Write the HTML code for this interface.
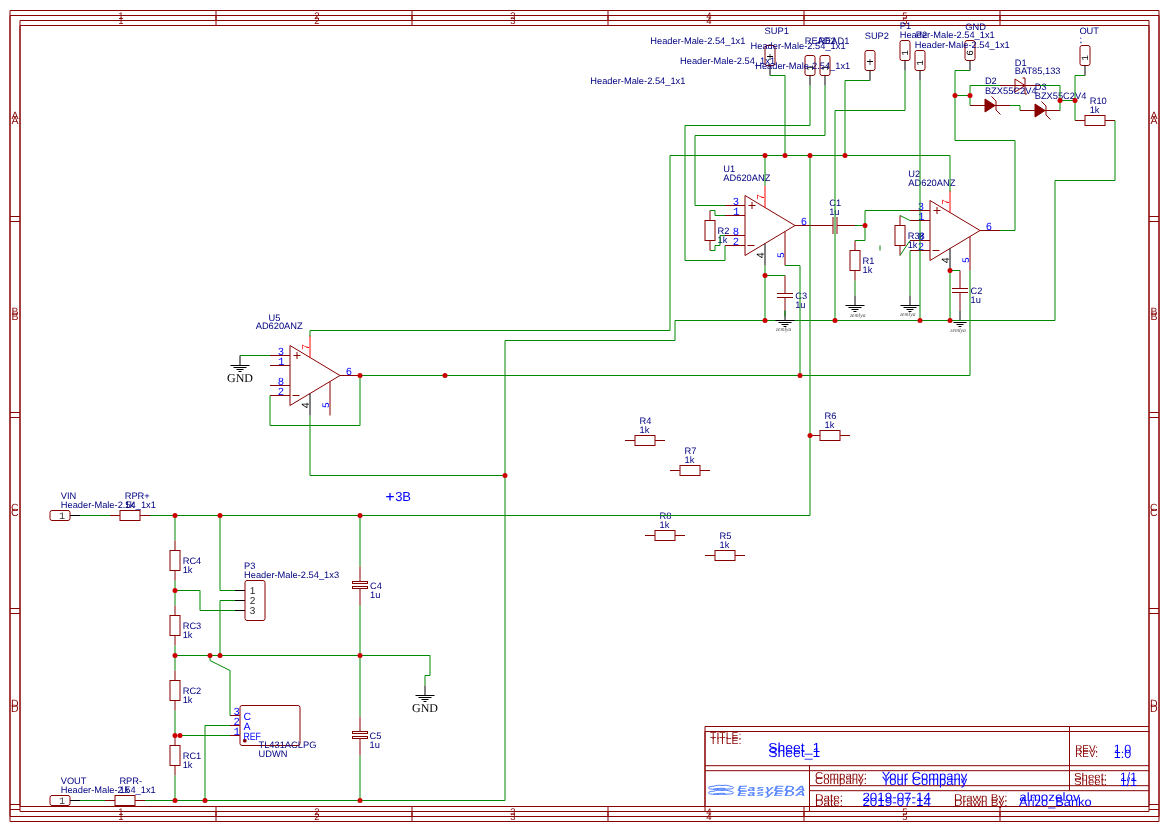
<!DOCTYPE html>
<html><head><meta charset="utf-8"><style>
html,body{margin:0;padding:0;background:#fff;}
svg{display:block;}
</style></head><body>
<div style="will-change:transform;width:1169px;height:832px;background:#fff">
<svg width="1169" height="832" viewBox="0 0 1169 832" font-family="Liberation Sans, sans-serif" text-rendering="geometricPrecision">
<rect width="1169" height="832" fill="#fff"/>
<g transform="translate(0,0.5)"><g id="frA" stroke="#880000" stroke-width="1"><line x1="10" y1="10" x2="1159" y2="10"/><line x1="10" y1="816" x2="1159" y2="816"/><line x1="10" y1="10" x2="10" y2="816"/><line x1="1159" y1="10" x2="1159" y2="816"/><line x1="20" y1="20" x2="1149" y2="20"/><line x1="20" y1="806" x2="1149" y2="806"/><line x1="20" y1="20" x2="20" y2="806"/><line x1="1149" y1="20" x2="1149" y2="806"/><line x1="216" y1="10" x2="216" y2="20"/><line x1="216" y1="806" x2="216" y2="816"/><line x1="412" y1="10" x2="412" y2="20"/><line x1="412" y1="806" x2="412" y2="816"/><line x1="608" y1="10" x2="608" y2="20"/><line x1="608" y1="806" x2="608" y2="816"/><line x1="804" y1="10" x2="804" y2="20"/><line x1="804" y1="806" x2="804" y2="816"/><line x1="1000" y1="10" x2="1000" y2="20"/><line x1="1000" y1="806" x2="1000" y2="816"/><line x1="10" y1="216" x2="20" y2="216"/><line x1="1149" y1="216" x2="1159" y2="216"/><line x1="10" y1="412" x2="20" y2="412"/><line x1="1149" y1="412" x2="1159" y2="412"/><line x1="10" y1="608" x2="20" y2="608"/><line x1="1149" y1="608" x2="1159" y2="608"/><line x1="10" y1="804" x2="20" y2="804"/><line x1="1149" y1="804" x2="1159" y2="804"/><line x1="705" y1="726" x2="1149" y2="726"/><line x1="705" y1="726" x2="705" y2="806"/><line x1="705" y1="765.2" x2="1149" y2="765.2"/><line x1="809.5" y1="765" x2="809.5" y2="806"/><line x1="809.5" y1="785.2" x2="1149" y2="785.2"/><line x1="1069.5" y1="726" x2="1069.5" y2="785"/></g>
<use href="#frA" transform="translate(0,5)"/>
<rect x="765" y="45" width="10" height="20" rx="2" fill="none" stroke="#880000"/>
<line x1="770" y1="65" x2="770" y2="75" stroke="#000000" stroke-width="1"/>
<line x1="767" y1="56" x2="773" y2="56" stroke="#000000" stroke-width="1"/>
<line x1="770" y1="53.5" x2="770" y2="59.5" stroke="#000000" stroke-width="0.7"/>
<rect x="805" y="55" width="10" height="20" rx="2" fill="none" stroke="#880000"/>
<line x1="810" y1="75" x2="810" y2="85" stroke="#000000" stroke-width="1"/>
<rect x="820" y="55" width="10" height="20" rx="2" fill="none" stroke="#880000"/>
<line x1="825" y1="75" x2="825" y2="85" stroke="#000000" stroke-width="1"/>
<rect x="865" y="50" width="10" height="20" rx="2" fill="none" stroke="#880000"/>
<line x1="870" y1="70" x2="870" y2="80" stroke="#000000" stroke-width="1"/>
<line x1="867" y1="61" x2="873" y2="61" stroke="#000000" stroke-width="1"/>
<line x1="870" y1="58.5" x2="870" y2="64.5" stroke="#000000" stroke-width="0.7"/>
<rect x="900" y="40" width="10" height="20" rx="2" fill="none" stroke="#880000"/>
<line x1="905" y1="60" x2="905" y2="70" stroke="#000000" stroke-width="1"/>
<rect x="915" y="50" width="10" height="20" rx="2" fill="none" stroke="#880000"/>
<line x1="920" y1="70" x2="920" y2="80" stroke="#000000" stroke-width="1"/>
<rect x="965" y="40" width="10" height="20" rx="2" fill="none" stroke="#880000"/>
<line x1="970" y1="60" x2="970" y2="70" stroke="#000000" stroke-width="1"/>
<rect x="1080" y="45" width="10" height="20" rx="2" fill="none" stroke="#880000"/>
<line x1="1085" y1="65" x2="1085" y2="75" stroke="#000000" stroke-width="1"/>
<circle cx="1080.8" cy="37.7" r="0.8" fill="#6a6ac0"/><circle cx="1080.9" cy="41.9" r="0.95" fill="#6a6ac0"/>
<line x1="1000" y1="85" x2="1040" y2="85" stroke="#880000" stroke-width="1"/>
<polygon points="1015,78.5 1025,85 1015,91.5" fill="none" stroke="#880000"/>
<polyline points="1022.5,77.5 1025,77.5 1025,93.5 1027,93.5" fill="none" stroke="#880000" stroke-width="1"/>
<line x1="970" y1="105" x2="1010" y2="105" stroke="#880000" stroke-width="1"/>
<line x1="1020" y1="110" x2="1060" y2="110" stroke="#880000" stroke-width="1"/>
<polygon points="985,98.5 995,105 985,111.5" fill="#880000" stroke="#880000"/>
<polyline points="991.5,96 996,100.5 996,109.5 1000.5,114" fill="none" stroke="#880000" stroke-width="1"/>
<polygon points="1035,103.5 1045,110 1035,116.5" fill="#880000" stroke="#880000"/>
<polyline points="1041.5,101 1046,105.5 1046,114.5 1050.5,119" fill="none" stroke="#880000" stroke-width="1"/>
<line x1="1075" y1="120" x2="1085" y2="120" stroke="#880000" stroke-width="1"/>
<rect x="1085" y="115" width="20" height="10" rx="0" fill="none" stroke="#880000"/>
<line x1="1105" y1="120" x2="1115" y2="120" stroke="#880000" stroke-width="1"/>
<polygon points="745,195 795,225 745,255" fill="none" stroke="#880000"/>
<line x1="725" y1="205" x2="745" y2="205" stroke="#880000" stroke-width="1"/>
<line x1="725" y1="215" x2="745" y2="215" stroke="#880000" stroke-width="1"/>
<line x1="725" y1="235" x2="745" y2="235" stroke="#880000" stroke-width="1"/>
<line x1="725" y1="245" x2="745" y2="245" stroke="#880000" stroke-width="1"/>
<line x1="748.5" y1="205" x2="755.5" y2="205" stroke="#880000" stroke-width="1"/>
<line x1="752" y1="201.5" x2="752" y2="208.5" stroke="#880000" stroke-width="1"/>
<line x1="747.5" y1="245" x2="754.5" y2="245" stroke="#880000" stroke-width="1"/>
<line x1="765" y1="185" x2="765" y2="207" stroke="#ff0000" stroke-width="1"/>
<line x1="765" y1="243" x2="765" y2="265" stroke="#000000" stroke-width="1"/>
<line x1="785" y1="231" x2="785" y2="265" stroke="#880000" stroke-width="1"/>
<line x1="795" y1="225" x2="815" y2="225" stroke="#880000" stroke-width="1"/>
<line x1="710" y1="210" x2="710" y2="220" stroke="#880000" stroke-width="1"/>
<rect x="705" y="220" width="10" height="20" rx="0" fill="none" stroke="#880000"/>
<line x1="710" y1="240" x2="710" y2="250" stroke="#880000" stroke-width="1"/>
<line x1="815" y1="225" x2="833" y2="225" stroke="#880000" stroke-width="1"/>
<line x1="833" y1="216.5" x2="833" y2="233.5" stroke="#880000" stroke-width="1"/>
<line x1="837" y1="216.5" x2="837" y2="233.5" stroke="#880000" stroke-width="1"/>
<line x1="837" y1="225" x2="855" y2="225" stroke="#880000" stroke-width="1"/>
<line x1="855" y1="240" x2="855" y2="250" stroke="#880000" stroke-width="1"/>
<rect x="850" y="250" width="10" height="20" rx="0" fill="none" stroke="#880000"/>
<line x1="855" y1="270" x2="855" y2="280" stroke="#880000" stroke-width="1"/>
<line x1="855" y1="295" x2="855" y2="305" stroke="#000000" stroke-width="1"/>
<line x1="845.5" y1="305" x2="864.5" y2="305" stroke="#000000" stroke-width="1"/>
<line x1="848.5" y1="307" x2="861.5" y2="307" stroke="#000000" stroke-width="1"/>
<line x1="851.5" y1="309" x2="858.5" y2="309" stroke="#000000" stroke-width="1"/>
<line x1="853.5" y1="311" x2="856.5" y2="311" stroke="#000000" stroke-width="1"/>
<line x1="785" y1="275" x2="785" y2="293" stroke="#880000" stroke-width="1"/>
<line x1="777" y1="293" x2="793" y2="293" stroke="#880000" stroke-width="1"/>
<line x1="777" y1="297" x2="793" y2="297" stroke="#880000" stroke-width="1"/>
<line x1="785" y1="297" x2="785" y2="310" stroke="#880000" stroke-width="1"/>
<line x1="785" y1="310" x2="785" y2="320" stroke="#000000" stroke-width="1"/>
<line x1="775.5" y1="320" x2="794.5" y2="320" stroke="#000000" stroke-width="1"/>
<line x1="778.5" y1="322" x2="791.5" y2="322" stroke="#000000" stroke-width="1"/>
<line x1="781.5" y1="324" x2="788.5" y2="324" stroke="#000000" stroke-width="1"/>
<line x1="783.5" y1="326" x2="786.5" y2="326" stroke="#000000" stroke-width="1"/>
<polygon points="930,200 980,230 930,260" fill="none" stroke="#880000"/>
<line x1="910" y1="210" x2="930" y2="210" stroke="#880000" stroke-width="1"/>
<line x1="910" y1="220" x2="930" y2="220" stroke="#880000" stroke-width="1"/>
<line x1="910" y1="240" x2="930" y2="240" stroke="#880000" stroke-width="1"/>
<line x1="910" y1="250" x2="930" y2="250" stroke="#880000" stroke-width="1"/>
<line x1="933.5" y1="210" x2="940.5" y2="210" stroke="#880000" stroke-width="1"/>
<line x1="937" y1="206.5" x2="937" y2="213.5" stroke="#880000" stroke-width="1"/>
<line x1="932.5" y1="250" x2="939.5" y2="250" stroke="#880000" stroke-width="1"/>
<line x1="950" y1="190" x2="950" y2="212" stroke="#ff0000" stroke-width="1"/>
<line x1="950" y1="248" x2="950" y2="270" stroke="#000000" stroke-width="1"/>
<line x1="970" y1="236" x2="970" y2="270" stroke="#880000" stroke-width="1"/>
<line x1="980" y1="230" x2="1000" y2="230" stroke="#880000" stroke-width="1"/>
<line x1="900" y1="215" x2="900" y2="225" stroke="#880000" stroke-width="1"/>
<rect x="895" y="225" width="10" height="20" rx="0" fill="none" stroke="#880000"/>
<line x1="900" y1="245" x2="900" y2="255" stroke="#880000" stroke-width="1"/>
<line x1="910" y1="295" x2="910" y2="305" stroke="#000000" stroke-width="1"/>
<line x1="900.5" y1="305" x2="919.5" y2="305" stroke="#000000" stroke-width="1"/>
<line x1="903.5" y1="307" x2="916.5" y2="307" stroke="#000000" stroke-width="1"/>
<line x1="906.5" y1="309" x2="913.5" y2="309" stroke="#000000" stroke-width="1"/>
<line x1="908.5" y1="311" x2="911.5" y2="311" stroke="#000000" stroke-width="1"/>
<line x1="960" y1="270" x2="960" y2="288" stroke="#880000" stroke-width="1"/>
<line x1="952" y1="288" x2="968" y2="288" stroke="#880000" stroke-width="1"/>
<line x1="952" y1="292" x2="968" y2="292" stroke="#880000" stroke-width="1"/>
<line x1="960" y1="292" x2="960" y2="310" stroke="#880000" stroke-width="1"/>
<line x1="960" y1="310" x2="960" y2="320" stroke="#000000" stroke-width="1"/>
<line x1="950.5" y1="320" x2="969.5" y2="320" stroke="#000000" stroke-width="1"/>
<line x1="953.5" y1="322" x2="966.5" y2="322" stroke="#000000" stroke-width="1"/>
<line x1="956.5" y1="324" x2="963.5" y2="324" stroke="#000000" stroke-width="1"/>
<line x1="958.5" y1="326" x2="961.5" y2="326" stroke="#000000" stroke-width="1"/>
<polygon points="290,345 340,375 290,405" fill="none" stroke="#880000"/>
<line x1="270" y1="355" x2="290" y2="355" stroke="#880000" stroke-width="1"/>
<line x1="270" y1="365" x2="290" y2="365" stroke="#880000" stroke-width="1"/>
<line x1="270" y1="385" x2="290" y2="385" stroke="#880000" stroke-width="1"/>
<line x1="270" y1="395" x2="290" y2="395" stroke="#880000" stroke-width="1"/>
<line x1="293.5" y1="355" x2="300.5" y2="355" stroke="#880000" stroke-width="1"/>
<line x1="297" y1="351.5" x2="297" y2="358.5" stroke="#880000" stroke-width="1"/>
<line x1="292.5" y1="395" x2="299.5" y2="395" stroke="#880000" stroke-width="1"/>
<line x1="310" y1="335" x2="310" y2="357" stroke="#ff0000" stroke-width="1"/>
<line x1="310" y1="393" x2="310" y2="415" stroke="#000000" stroke-width="1"/>
<line x1="330" y1="381" x2="330" y2="415" stroke="#880000" stroke-width="1"/>
<line x1="340" y1="375" x2="360" y2="375" stroke="#880000" stroke-width="1"/>
<line x1="240" y1="355" x2="240" y2="365" stroke="#000000" stroke-width="1"/>
<line x1="230.5" y1="365" x2="249.5" y2="365" stroke="#000000" stroke-width="1"/>
<line x1="233.5" y1="367" x2="246.5" y2="367" stroke="#000000" stroke-width="1"/>
<line x1="236.5" y1="369" x2="243.5" y2="369" stroke="#000000" stroke-width="1"/>
<line x1="238.5" y1="371" x2="241.5" y2="371" stroke="#000000" stroke-width="1"/>
<line x1="625" y1="440" x2="635" y2="440" stroke="#880000" stroke-width="1"/>
<rect x="635" y="435" width="20" height="10" rx="0" fill="none" stroke="#880000"/>
<line x1="655" y1="440" x2="665" y2="440" stroke="#880000" stroke-width="1"/>
<line x1="670" y1="470" x2="680" y2="470" stroke="#880000" stroke-width="1"/>
<rect x="680" y="465" width="20" height="10" rx="0" fill="none" stroke="#880000"/>
<line x1="700" y1="470" x2="710" y2="470" stroke="#880000" stroke-width="1"/>
<line x1="810" y1="435" x2="820" y2="435" stroke="#880000" stroke-width="1"/>
<rect x="820" y="430" width="20" height="10" rx="0" fill="none" stroke="#880000"/>
<line x1="840" y1="435" x2="850" y2="435" stroke="#880000" stroke-width="1"/>
<line x1="645" y1="535" x2="655" y2="535" stroke="#880000" stroke-width="1"/>
<rect x="655" y="530" width="20" height="10" rx="0" fill="none" stroke="#880000"/>
<line x1="675" y1="535" x2="685" y2="535" stroke="#880000" stroke-width="1"/>
<line x1="705" y1="555" x2="715" y2="555" stroke="#880000" stroke-width="1"/>
<rect x="715" y="550" width="20" height="10" rx="0" fill="none" stroke="#880000"/>
<line x1="735" y1="555" x2="745" y2="555" stroke="#880000" stroke-width="1"/>
<rect x="50" y="510" width="20" height="10" rx="2" fill="none" stroke="#880000"/>
<line x1="70" y1="515" x2="80" y2="515" stroke="#000000" stroke-width="1"/>
<line x1="110" y1="515" x2="120" y2="515" stroke="#880000" stroke-width="1"/>
<rect x="120" y="510" width="20" height="10" rx="0" fill="none" stroke="#880000"/>
<line x1="140" y1="515" x2="150" y2="515" stroke="#880000" stroke-width="1"/>
<line x1="175" y1="540" x2="175" y2="550" stroke="#880000" stroke-width="1"/>
<rect x="170" y="550" width="10" height="20" rx="0" fill="none" stroke="#880000"/>
<line x1="175" y1="570" x2="175" y2="580" stroke="#880000" stroke-width="1"/>
<line x1="235" y1="610" x2="245" y2="610" stroke="#000000" stroke-width="1"/>
<line x1="235" y1="590" x2="245" y2="590" stroke="#000000" stroke-width="1"/>
<line x1="235" y1="600" x2="245" y2="600" stroke="#000000" stroke-width="1"/>
<rect x="245" y="580" width="20" height="40" rx="2" fill="none" stroke="#880000"/>
<line x1="175" y1="605" x2="175" y2="615" stroke="#880000" stroke-width="1"/>
<rect x="170" y="615" width="10" height="20" rx="0" fill="none" stroke="#880000"/>
<line x1="175" y1="635" x2="175" y2="645" stroke="#880000" stroke-width="1"/>
<line x1="425" y1="685" x2="425" y2="695" stroke="#000000" stroke-width="1"/>
<line x1="415.5" y1="695" x2="434.5" y2="695" stroke="#000000" stroke-width="1"/>
<line x1="418.5" y1="697" x2="431.5" y2="697" stroke="#000000" stroke-width="1"/>
<line x1="421.5" y1="699" x2="428.5" y2="699" stroke="#000000" stroke-width="1"/>
<line x1="423.5" y1="701" x2="426.5" y2="701" stroke="#000000" stroke-width="1"/>
<line x1="175" y1="670" x2="175" y2="680" stroke="#880000" stroke-width="1"/>
<rect x="170" y="680" width="10" height="20" rx="0" fill="none" stroke="#880000"/>
<line x1="175" y1="700" x2="175" y2="710" stroke="#880000" stroke-width="1"/>
<line x1="230" y1="715" x2="240" y2="715" stroke="#880000" stroke-width="1"/>
<line x1="230" y1="725" x2="240" y2="725" stroke="#880000" stroke-width="1"/>
<line x1="230" y1="735" x2="240" y2="735" stroke="#880000" stroke-width="1"/>
<rect x="240" y="705" width="60" height="40" rx="2" fill="none" stroke="#880000"/>
<circle cx="244.8" cy="740.2" r="1.9" fill="#880000"/>
<line x1="175" y1="735" x2="175" y2="745" stroke="#880000" stroke-width="1"/>
<rect x="170" y="745" width="10" height="20" rx="0" fill="none" stroke="#880000"/>
<line x1="175" y1="765" x2="175" y2="775" stroke="#880000" stroke-width="1"/>
<rect x="50" y="795" width="20" height="10" rx="2" fill="none" stroke="#880000"/>
<line x1="70" y1="800" x2="80" y2="800" stroke="#000000" stroke-width="1"/>
<line x1="105" y1="800" x2="115" y2="800" stroke="#880000" stroke-width="1"/>
<rect x="115" y="795" width="20" height="10" rx="0" fill="none" stroke="#880000"/>
<line x1="135" y1="800" x2="145" y2="800" stroke="#880000" stroke-width="1"/>
<line x1="360" y1="566" x2="360" y2="581" stroke="#880000" stroke-width="1"/>
<rect x="352.5" y="581" width="15" height="2" fill="none" stroke="#880000"/>
<rect x="352.5" y="586" width="15" height="2" fill="none" stroke="#880000"/>
<line x1="360" y1="588" x2="360" y2="605" stroke="#880000" stroke-width="1"/>
<line x1="360" y1="716" x2="360" y2="731" stroke="#880000" stroke-width="1"/>
<rect x="352.5" y="731" width="15" height="2" fill="none" stroke="#880000"/>
<rect x="352.5" y="736" width="15" height="2" fill="none" stroke="#880000"/>
<line x1="360" y1="738" x2="360" y2="755" stroke="#880000" stroke-width="1"/>
<path d="M386.2,496.6 H393.8 M390,492.9 V500.6" stroke="#0000ff" stroke-width="1.25" fill="none" transform="translate(0,-0.5)"/></g>
<g><g id="frT"><text x="121" y="18.9" text-anchor="middle" font-size="9.5" fill="#880000">1</text><text x="121" y="814.9" text-anchor="middle" font-size="9.5" fill="#880000">1</text><text x="317" y="18.9" text-anchor="middle" font-size="9.5" fill="#880000">2</text><text x="317" y="814.9" text-anchor="middle" font-size="9.5" fill="#880000">2</text><text x="513" y="18.9" text-anchor="middle" font-size="9.5" fill="#880000">3</text><text x="513" y="814.9" text-anchor="middle" font-size="9.5" fill="#880000">3</text><text x="709" y="18.9" text-anchor="middle" font-size="9.5" fill="#880000">4</text><text x="709" y="814.9" text-anchor="middle" font-size="9.5" fill="#880000">4</text><text x="905" y="18.9" text-anchor="middle" font-size="9.5" fill="#880000">5</text><text x="905" y="814.9" text-anchor="middle" font-size="9.5" fill="#880000">5</text><text x="14.9" y="118.8" text-anchor="middle" font-size="10.5" fill="#880000">A</text><text x="1153.9" y="118.8" text-anchor="middle" font-size="10.5" fill="#880000">A</text><text x="14.9" y="314.9" text-anchor="middle" font-size="10.5" fill="#880000">B</text><text x="1153.9" y="314.9" text-anchor="middle" font-size="10.5" fill="#880000">B</text><text x="14.9" y="511" text-anchor="middle" font-size="10.5" fill="#880000">C</text><text x="1153.9" y="511" text-anchor="middle" font-size="10.5" fill="#880000">C</text><text x="14.9" y="707" text-anchor="middle" font-size="10.5" fill="#880000">D</text><text x="1153.9" y="707" text-anchor="middle" font-size="10.5" fill="#880000">D</text><text x="710.1" y="739.2" font-size="10" fill="#880000" textLength="31.3" lengthAdjust="spacingAndGlyphs">TITLE:</text><text x="768.2" y="752" font-size="13" fill="#0000ff" textLength="52" lengthAdjust="spacingAndGlyphs">Sheet_1</text><text x="1075.2" y="752.2" font-size="10" fill="#880000" textLength="22.8" lengthAdjust="spacingAndGlyphs">REV:</text><text x="1113.8" y="752.7" font-size="12" fill="#0000ff" textLength="17.4" lengthAdjust="spacingAndGlyphs">1.0</text><text x="815" y="779.2" font-size="10" fill="#880000" textLength="52" lengthAdjust="spacingAndGlyphs">Company:</text><text x="881.8" y="779.8" font-size="12" fill="#0000ff" textLength="85.5" lengthAdjust="spacingAndGlyphs">Your Company</text><text x="1074" y="780.2" font-size="10" fill="#880000" textLength="33" lengthAdjust="spacingAndGlyphs">Sheet:</text><text x="1120.1" y="781.2" font-size="12" fill="#0000ff" textLength="16.8" lengthAdjust="spacingAndGlyphs">1/1</text><text x="815" y="800.8" font-size="10" fill="#880000" textLength="28" lengthAdjust="spacingAndGlyphs">Date:</text><text x="862.4" y="801.4" font-size="12" fill="#0000ff" textLength="68.5" lengthAdjust="spacingAndGlyphs">2019-07-14</text><text x="954.1" y="800.8" font-size="10" fill="#880000" textLength="53.3" lengthAdjust="spacingAndGlyphs">Drawn By:</text><path d="M708.5,787.8 c0,-1 2.5,-1.6 5.5,-1.6 c1.5,-0.8 5,-1.2 8,-0.7 c2.5,-0.5 6.5,-0.2 8,0.7 c2,0.3 3.5,0.8 3.5,1.6 c0,0.9 -2.5,1.3 -5.5,1.3 c-2,0.4 -5,0.4 -7,0.1 c-2.5,0.4 -6,0.4 -8.5,0 c-2.5,-0.1 -4,-0.6 -4,-1.4 z M713,789.3 c2,-0.6 4.5,-0.9 6.5,-0.9 c2,-0.2 4,-0.2 6,0.2" fill="none" stroke="#4f7fff" stroke-width="1"/><text transform="translate(737.3,791) scale(1.3,0.68)" font-size="11" font-weight="bold" font-style="italic" fill="#5a88ff" textLength="52.6" lengthAdjust="spacing">EasyEDA</text></g><use href="#frT" transform="translate(0,5)"/><text x="1019.2" y="801.2" font-size="12" fill="#0000ff" textLength="60.5" lengthAdjust="spacingAndGlyphs">almozelov</text>
<text x="1019" y="806.2" font-size="12" fill="#0000ff" textLength="72.6" lengthAdjust="spacingAndGlyphs">Arizo_Banko</text>
<text transform="translate(813,68) rotate(-90)" font-size="9.5" fill="#000" font-family="Liberation Mono" text-anchor="middle">1</text>
<text transform="translate(828,68) rotate(-90)" font-size="9.5" fill="#000" font-family="Liberation Mono" text-anchor="middle">1</text>
<text transform="translate(908,53) rotate(-90)" font-size="9.5" fill="#000" font-family="Liberation Mono" text-anchor="middle">1</text>
<text transform="translate(923,63) rotate(-90)" font-size="9.5" fill="#000" font-family="Liberation Mono" text-anchor="middle">1</text>
<text transform="translate(973,53) rotate(-90)" font-size="9.5" fill="#000" font-family="Liberation Mono" text-anchor="middle">6</text>
<text transform="translate(1088,58) rotate(-90)" font-size="9.5" fill="#000" font-family="Liberation Mono" text-anchor="middle">1</text>
<text x="650.3" y="44" font-size="9.3" fill="#000080" >Header-Male-2.54_1x1</text>
<text x="680" y="64" font-size="9.3" fill="#000080" >Header-Male-2.54_1x1</text>
<text x="590.3" y="84" font-size="9.3" fill="#000080" >Header-Male-2.54_1x1</text>
<text x="750.5" y="49" font-size="9.3" fill="#000080" >Header-Male-2.54_1x1</text>
<text x="755.2" y="69" font-size="9.3" fill="#000080" >Header-Male-2.54_1x1</text>
<text x="899.7" y="38" font-size="9.3" fill="#000080" >Header-Male-2.54_1x1</text>
<text x="914.7" y="48" font-size="9.3" fill="#000080" >Header-Male-2.54_1x1</text>
<text x="764.6" y="34" font-size="9.3" fill="#000080" >SUP1</text>
<text x="804.7" y="44" font-size="9.3" fill="#000080" >READ2</text>
<text x="818.4" y="44" font-size="9.3" fill="#000080" >READ1</text>
<text x="864.7" y="39" font-size="9.3" fill="#000080" >SUP2</text>
<text x="899.7" y="29" font-size="9.3" fill="#000080" >P1</text>
<text x="915.8" y="38" font-size="9.3" fill="#000080" >P2</text>
<text x="965.3" y="30" font-size="9.3" fill="#000080" >GND</text>
<text x="1079.4" y="34" font-size="9.3" fill="#000080" >OUT</text>
<text x="1014.7" y="66" font-size="9.3" fill="#000080" >D1</text>
<text x="1014.7" y="74.4" font-size="9.3" fill="#000080" >BAT85,133</text>
<text x="984.9" y="84.2" font-size="9.3" fill="#000080" >D2</text>
<text x="984.9" y="94" font-size="9.3" fill="#000080" >BZX55C2V4</text>
<text x="1034.7" y="89.8" font-size="9.3" fill="#000080" >D3</text>
<text x="1034.7" y="98.6" font-size="9.3" fill="#000080" >BZX55C2V4</text>
<text x="1089.7" y="104" font-size="9.3" fill="#000080" >R10</text>
<text x="1089.7" y="113" font-size="9.3" fill="#000080" >1k</text>
<text x="733.1" y="205" font-size="10.5" fill="#0000ff" >3</text>
<text x="733.1" y="215" font-size="11" fill="#0000ff" font-family="Liberation Mono">1</text>
<text x="733.1" y="235" font-size="10.5" fill="#0000ff" >8</text>
<text x="733.1" y="245" font-size="10.5" fill="#0000ff" >2</text>
<text x="800.9" y="225" font-size="10.5" fill="#0000ff" >6</text>
<text transform="translate(763.7,197) rotate(-90)" font-size="10" fill="#ff0000" text-anchor="middle">7</text>
<text transform="translate(763.9,255.3) rotate(-90)" font-size="10.5" fill="#000000" text-anchor="middle">4</text>
<text transform="translate(783.9,255) rotate(-90)" font-size="9.5" fill="#0000ff" text-anchor="middle">5</text>
<text x="723.3" y="171.6" font-size="9.3" fill="#000080" >U1</text>
<text x="723.3" y="181" font-size="9.3" fill="#000080" >AD620ANZ</text>
<text x="717.6" y="234" font-size="9.3" fill="#000080" >R2</text>
<text x="717.6" y="243" font-size="9.3" fill="#000080" >1k</text>
<text x="829.2" y="206" font-size="9.3" fill="#000080" >C1</text>
<text x="829.2" y="215" font-size="9.3" fill="#000080" >1u</text>
<text x="857.7" y="316.6" font-size="5.6" fill="#444" font-style="italic" font-family="Liberation Serif" text-anchor="middle">zemlya</text>
<text x="862.6" y="264" font-size="9.3" fill="#000080" >R1</text>
<text x="862.6" y="273" font-size="9.3" fill="#000080" >1k</text>
<text x="783.5" y="330.5" font-size="5.6" fill="#444" font-style="italic" font-family="Liberation Serif" text-anchor="middle">zemlya</text>
<text x="795.2" y="299" font-size="9.3" fill="#000080" >C3</text>
<text x="795.2" y="308" font-size="9.3" fill="#000080" >1u</text>
<text x="918.1" y="210" font-size="10.5" fill="#0000ff" >3</text>
<text x="918.1" y="220" font-size="11" fill="#0000ff" font-family="Liberation Mono">1</text>
<text x="918.1" y="240" font-size="10.5" fill="#0000ff" >8</text>
<text x="918.1" y="250" font-size="10.5" fill="#0000ff" >2</text>
<text x="985.9" y="230" font-size="10.5" fill="#0000ff" >6</text>
<text transform="translate(948.7,202) rotate(-90)" font-size="10" fill="#ff0000" text-anchor="middle">7</text>
<text transform="translate(948.9,260.3) rotate(-90)" font-size="10.5" fill="#000000" text-anchor="middle">4</text>
<text transform="translate(968.9,260) rotate(-90)" font-size="9.5" fill="#0000ff" text-anchor="middle">5</text>
<text x="908.3" y="176.6" font-size="9.3" fill="#000080" >U2</text>
<text x="908.3" y="186" font-size="9.3" fill="#000080" >AD620ANZ</text>
<text x="907.7" y="239" font-size="9.3" fill="#000080" >R38</text>
<text x="907.7" y="248" font-size="9.3" fill="#000080" >1k</text>
<text x="907.7" y="316.4" font-size="5.6" fill="#444" font-style="italic" font-family="Liberation Serif" text-anchor="middle">zemlya</text>
<text x="958" y="331.5" font-size="5.6" fill="#444" font-style="italic" font-family="Liberation Serif" text-anchor="middle">zemlya</text>
<text x="970.5" y="294" font-size="9.3" fill="#000080" >C2</text>
<text x="970.5" y="303" font-size="9.3" fill="#000080" >1u</text>
<text x="278.1" y="355" font-size="10.5" fill="#0000ff" >3</text>
<text x="278.1" y="365" font-size="11" fill="#0000ff" font-family="Liberation Mono">1</text>
<text x="278.1" y="385" font-size="10.5" fill="#0000ff" >8</text>
<text x="278.1" y="395" font-size="10.5" fill="#0000ff" >2</text>
<text x="345.9" y="375" font-size="10.5" fill="#0000ff" >6</text>
<text transform="translate(308.7,347) rotate(-90)" font-size="10" fill="#ff0000" text-anchor="middle">7</text>
<text transform="translate(308.9,405.3) rotate(-90)" font-size="10.5" fill="#000000" text-anchor="middle">4</text>
<text transform="translate(328.9,405) rotate(-90)" font-size="9.5" fill="#0000ff" text-anchor="middle">5</text>
<text x="240" y="381.7" font-size="12" fill="#000" font-family="Liberation Serif" text-anchor="middle">GND</text>
<text x="268.6" y="321" font-size="9.3" fill="#000080" >U5</text>
<text x="255.7" y="329" font-size="9.3" fill="#000080" >AD620ANZ</text>
<text x="639.5" y="424" font-size="9.3" fill="#000080" >R4</text>
<text x="639.5" y="433" font-size="9.3" fill="#000080" >1k</text>
<text x="684.5" y="454" font-size="9.3" fill="#000080" >R7</text>
<text x="684.5" y="463" font-size="9.3" fill="#000080" >1k</text>
<text x="824.5" y="419" font-size="9.3" fill="#000080" >R6</text>
<text x="824.5" y="428" font-size="9.3" fill="#000080" >1k</text>
<text x="659.5" y="519" font-size="9.3" fill="#000080" >R8</text>
<text x="659.5" y="528" font-size="9.3" fill="#000080" >1k</text>
<text x="719.5" y="539" font-size="9.3" fill="#000080" >R5</text>
<text x="719.5" y="548" font-size="9.3" fill="#000080" >1k</text>
<text x="62" y="518.7" font-size="10" fill="#333" text-anchor="middle" font-family="Liberation Mono">1</text>
<text x="60.8" y="499" font-size="9.3" fill="#000080" >VIN</text>
<text x="60.8" y="508" font-size="9.3" fill="#000080" >Header-Male-2.54_1x1</text>
<text x="124.7" y="499" font-size="9.3" fill="#000080" >RPR+</text>
<text x="124.7" y="508" font-size="9.3" fill="#000080" >1k</text>
<text x="182.7" y="564" font-size="9.3" fill="#000080" >RC4</text>
<text x="182.7" y="573" font-size="9.3" fill="#000080" >1k</text>
<text x="252.5" y="593.5" font-size="10" fill="#222" text-anchor="middle">1</text>
<text x="252.5" y="603.6" font-size="10" fill="#222" text-anchor="middle">2</text>
<text x="252.5" y="613.7" font-size="10" fill="#222" text-anchor="middle">3</text>
<text x="244" y="568.6" font-size="9.3" fill="#000080" >P3</text>
<text x="244" y="578" font-size="9.3" fill="#000080" >Header-Male-2.54_1x3</text>
<text x="182.7" y="629" font-size="9.3" fill="#000080" >RC3</text>
<text x="182.7" y="638" font-size="9.3" fill="#000080" >1k</text>
<text x="425" y="711.7" font-size="12" fill="#000" font-family="Liberation Serif" text-anchor="middle">GND</text>
<text x="182.7" y="694" font-size="9.3" fill="#000080" >RC2</text>
<text x="182.7" y="703" font-size="9.3" fill="#000080" >1k</text>
<text x="243.4" y="720" font-size="10.5" fill="#0000ff" >C</text>
<text x="243.4" y="730" font-size="10.5" fill="#0000ff" >A</text>
<text x="243.4" y="740" font-size="10.5" fill="#0000ff" textLength="17.6" lengthAdjust="spacingAndGlyphs">REF</text>
<text x="233.7" y="715" font-size="10.5" fill="#0000ff" >3</text>
<text x="233.7" y="725" font-size="10.5" fill="#0000ff" >2</text>
<text x="233.4" y="735" font-size="11" fill="#0000ff" font-family="Liberation Mono">1</text>
<text x="258.5" y="748.3" font-size="9.3" fill="#000080" >TL431ACLPG</text>
<text x="258.5" y="757" font-size="9.3" fill="#000080" >UDWN</text>
<text x="182.7" y="759" font-size="9.3" fill="#000080" >RC1</text>
<text x="182.7" y="768" font-size="9.3" fill="#000080" >1k</text>
<text x="62" y="803.7" font-size="10" fill="#333" text-anchor="middle" font-family="Liberation Mono">1</text>
<text x="60.7" y="784" font-size="9.3" fill="#000080" >VOUT</text>
<text x="60.7" y="793" font-size="9.3" fill="#000080" >Header-Male-2.54_1x1</text>
<text x="119.4" y="784" font-size="9.3" fill="#000080" >RPR-</text>
<text x="119.4" y="793" font-size="9.3" fill="#000080" >1k</text>
<text x="370" y="589" font-size="9.3" fill="#000080" >C4</text>
<text x="370" y="598" font-size="9.3" fill="#000080" >1u</text>
<text x="369.6" y="739" font-size="9.3" fill="#000080" >C5</text>
<text x="369.6" y="748" font-size="9.3" fill="#000080" >1u</text>
<text x="395.2 402.2" y="501" font-size="13" fill="#0000ff">3B</text></g>
<g transform="translate(0,0.5)"><polyline points="770,75 785,75 785,155" fill="none" stroke="#008800" stroke-width="1"/>
<polyline points="810,85 810,125 685,125 685,260 725,260 725,245" fill="none" stroke="#008800" stroke-width="1"/>
<polyline points="825,85 825,135 695,135 695,205 725,205" fill="none" stroke="#008800" stroke-width="1"/>
<polyline points="870,80 845,80 845,155" fill="none" stroke="#008800" stroke-width="1"/>
<polyline points="905,70 905,110 835,110 835,320" fill="none" stroke="#008800" stroke-width="1"/>
<polyline points="920,80 920,320" fill="none" stroke="#008800" stroke-width="1"/>
<polyline points="970,70 955,70 955,140 1015,140 1015,230 1000,230" fill="none" stroke="#008800" stroke-width="1"/>
<polyline points="1085,75 1075,75 1075,120" fill="none" stroke="#008800" stroke-width="1"/>
<line x1="955" y1="95" x2="970" y2="95" stroke="#008800" stroke-width="1"/>
<polyline points="970,85 970,105" fill="none" stroke="#008800" stroke-width="1"/>
<line x1="970" y1="85" x2="1000" y2="85" stroke="#008800" stroke-width="1"/>
<line x1="1040" y1="85" x2="1060" y2="85" stroke="#008800" stroke-width="1"/>
<line x1="1060" y1="85" x2="1060" y2="110" stroke="#008800" stroke-width="1"/>
<polyline points="1010,105 1020,105 1020,110" fill="none" stroke="#008800" stroke-width="1"/>
<line x1="1060" y1="100" x2="1075" y2="100" stroke="#008800" stroke-width="1"/>
<polyline points="1115,120 1115,180 1055,180 1055,320" fill="none" stroke="#008800" stroke-width="1"/>
<line x1="670" y1="155" x2="950" y2="155" stroke="#008800" stroke-width="1"/>
<line x1="670" y1="155" x2="670" y2="330" stroke="#008800" stroke-width="1"/>
<line x1="670" y1="330" x2="310" y2="330" stroke="#008800" stroke-width="1"/>
<line x1="310" y1="330" x2="310" y2="336" stroke="#008800" stroke-width="1"/>
<line x1="675" y1="320" x2="1055" y2="320" stroke="#008800" stroke-width="1"/>
<polyline points="675,320 675,340 505,340 505,800" fill="none" stroke="#008800" stroke-width="1"/>
<line x1="360" y1="375" x2="970" y2="375" stroke="#008800" stroke-width="1"/>
<line x1="970" y1="375" x2="970" y2="270" stroke="#008800" stroke-width="1"/>
<line x1="810" y1="155" x2="810" y2="515" stroke="#008800" stroke-width="1"/>
<line x1="150" y1="515" x2="810" y2="515" stroke="#008800" stroke-width="1"/>
<line x1="765" y1="155" x2="765" y2="185" stroke="#008800" stroke-width="1"/>
<line x1="765" y1="265" x2="765" y2="320" stroke="#008800" stroke-width="1"/>
<polyline points="785,265 800,265 800,375" fill="none" stroke="#008800" stroke-width="1"/>
<polyline points="710,210 715,210 715,215 725,215" fill="none" stroke="#008800" stroke-width="1"/>
<polyline points="710,250 715,250 715,245 720,245 720,235 725,235" fill="none" stroke="#008800" stroke-width="1"/>
<line x1="855" y1="225" x2="865" y2="225" stroke="#008800" stroke-width="1"/>
<polyline points="865,225 865,210 910,210" fill="none" stroke="#008800" stroke-width="1"/>
<polyline points="865,225 865,240 855,240" fill="none" stroke="#008800" stroke-width="1"/>
<line x1="855" y1="280" x2="855" y2="295" stroke="#008800" stroke-width="1"/>
<line x1="765" y1="275" x2="785" y2="275" stroke="#008800" stroke-width="1"/>
<line x1="785" y1="310" x2="785" y2="316" stroke="#008800" stroke-width="1"/>
<line x1="950" y1="155" x2="950" y2="191" stroke="#008800" stroke-width="1"/>
<line x1="950" y1="270" x2="950" y2="320" stroke="#008800" stroke-width="1"/>
<line x1="1000" y1="230" x2="1015" y2="230" stroke="#008800" stroke-width="1"/>
<line x1="910" y1="220" x2="900" y2="215" stroke="#008800" stroke-width="1"/>
<line x1="900" y1="255" x2="910" y2="240" stroke="#008800" stroke-width="1"/>
<line x1="910" y1="250" x2="910" y2="295" stroke="#008800" stroke-width="1"/>
<line x1="950" y1="270" x2="960" y2="270" stroke="#008800" stroke-width="1"/>
<line x1="950" y1="320" x2="972" y2="320" stroke="#008800" stroke-width="1"/>
<line x1="880" y1="245" x2="880" y2="250" stroke="#008800" stroke-width="1"/>
<polyline points="310,415 310,475 505,475" fill="none" stroke="#008800" stroke-width="1"/>
<polyline points="270,395 270,425 360,425 360,375" fill="none" stroke="#008800" stroke-width="1"/>
<line x1="270" y1="355" x2="240" y2="355" stroke="#008800" stroke-width="1"/>
<line x1="80" y1="515" x2="110" y2="515" stroke="#008800" stroke-width="1"/>
<line x1="175" y1="515" x2="175" y2="540" stroke="#008800" stroke-width="1"/>
<line x1="175" y1="580" x2="175" y2="590" stroke="#008800" stroke-width="1"/>
<polyline points="175,590 200,590 200,610 235,610" fill="none" stroke="#008800" stroke-width="1"/>
<polyline points="220,515 220,590 235,590" fill="none" stroke="#008800" stroke-width="1"/>
<line x1="220" y1="600" x2="235" y2="600" stroke="#008800" stroke-width="1"/>
<line x1="220" y1="600" x2="220" y2="655" stroke="#008800" stroke-width="1"/>
<line x1="175" y1="590" x2="175" y2="605" stroke="#008800" stroke-width="1"/>
<line x1="175" y1="645" x2="175" y2="655" stroke="#008800" stroke-width="1"/>
<line x1="175" y1="655" x2="430" y2="655" stroke="#008800" stroke-width="1"/>
<polyline points="430,655 430,675 425,675 425,685" fill="none" stroke="#008800" stroke-width="1"/>
<polyline points="210,655 210,660 230,670 230,715" fill="none" stroke="#008800" stroke-width="1"/>
<line x1="175" y1="655" x2="175" y2="670" stroke="#008800" stroke-width="1"/>
<line x1="175" y1="710" x2="175" y2="735" stroke="#008800" stroke-width="1"/>
<line x1="180" y1="735" x2="230" y2="735" stroke="#008800" stroke-width="1"/>
<polyline points="205,800 205,725 230,725" fill="none" stroke="#008800" stroke-width="1"/>
<line x1="175" y1="775" x2="175" y2="800" stroke="#008800" stroke-width="1"/>
<line x1="145" y1="800" x2="505" y2="800" stroke="#008800" stroke-width="1"/>
<line x1="80" y1="800" x2="105" y2="800" stroke="#008800" stroke-width="1"/>
<line x1="360" y1="515" x2="360" y2="566" stroke="#008800" stroke-width="1"/>
<line x1="360" y1="605" x2="360" y2="655" stroke="#008800" stroke-width="1"/>
<line x1="360" y1="655" x2="360" y2="716" stroke="#008800" stroke-width="1"/>
<line x1="360" y1="755" x2="360" y2="800" stroke="#008800" stroke-width="1"/><line x1="775.5" y1="320" x2="794.5" y2="320" stroke="#000000" stroke-width="1"/></g>
<g transform="translate(0,0.5)"><circle cx="955" cy="95" r="2.5" fill="#cc0000"/>
<circle cx="970" cy="95" r="2.5" fill="#cc0000"/>
<circle cx="1060" cy="100" r="2.5" fill="#cc0000"/>
<circle cx="1075" cy="100" r="2.5" fill="#cc0000"/>
<circle cx="765" cy="155" r="2.5" fill="#cc0000"/>
<circle cx="785" cy="155" r="2.5" fill="#cc0000"/>
<circle cx="810" cy="155" r="2.5" fill="#cc0000"/>
<circle cx="845" cy="155" r="2.5" fill="#cc0000"/>
<circle cx="765" cy="320" r="2.5" fill="#cc0000"/>
<circle cx="835" cy="320" r="2.5" fill="#cc0000"/>
<circle cx="920" cy="320" r="2.5" fill="#cc0000"/>
<circle cx="950" cy="320" r="2.5" fill="#cc0000"/>
<circle cx="360" cy="375" r="2.5" fill="#cc0000"/>
<circle cx="445" cy="375" r="2.5" fill="#cc0000"/>
<circle cx="800" cy="375" r="2.5" fill="#cc0000"/>
<circle cx="810" cy="435" r="2.5" fill="#cc0000"/>
<circle cx="765" cy="275" r="2.5" fill="#cc0000"/>
<circle cx="865" cy="225" r="2.5" fill="#cc0000"/>
<circle cx="950" cy="270" r="2.5" fill="#cc0000"/>
<circle cx="505" cy="475" r="2.5" fill="#cc0000"/>
<circle cx="175" cy="515" r="2.5" fill="#cc0000"/>
<circle cx="220" cy="515" r="2.5" fill="#cc0000"/>
<circle cx="360" cy="515" r="2.5" fill="#cc0000"/>
<circle cx="175" cy="590" r="2.5" fill="#cc0000"/>
<circle cx="175" cy="655" r="2.5" fill="#cc0000"/>
<circle cx="210" cy="655" r="2.5" fill="#cc0000"/>
<circle cx="220" cy="655" r="2.5" fill="#cc0000"/>
<circle cx="360" cy="655" r="2.5" fill="#cc0000"/>
<circle cx="175" cy="735" r="2.5" fill="#cc0000"/>
<circle cx="180" cy="735" r="2.5" fill="#cc0000"/>
<circle cx="175" cy="800" r="2.5" fill="#cc0000"/>
<circle cx="205" cy="800" r="2.5" fill="#cc0000"/>
<circle cx="360" cy="800" r="2.5" fill="#cc0000"/></g>
</svg>
</div>
</body></html>
